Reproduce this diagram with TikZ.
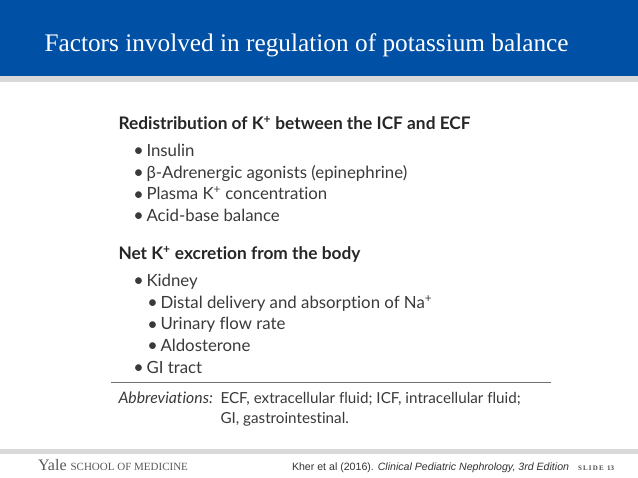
\documentclass[tikz,border=0pt]{standalone}
\usepackage{fontspec}
\setmainfont{Lato}[Ligatures=NoCommon]
\newfontfamily\titlefont{Liberation Serif}
\newfontfamily\citefont{Liberation Sans}
\usepackage[HTML]{xcolor}
\definecolor{yaleblue}{HTML}{0050A5}
\definecolor{bandgray}{HTML}{D9D9D9}
\definecolor{bodyink}{HTML}{3A3A3A}
\definecolor{ruleink}{HTML}{707070}
\newcommand{\itemrow}[1]{\makebox[12.5pt][l]{\hspace{-0.6pt}\raisebox{-0.4pt}{\fontsize{18}{20}\selectfont •}}#1}
\tikzset{
  txt/.style={anchor=base west,inner sep=0pt,outer sep=0pt,text=bodyink},
  headrow/.style={txt,font=\fontsize{17.3}{20}\selectfont\bfseries,text=black!85},
  bodyrow/.style={txt,font=\fontsize{16.8}{20}\selectfont},
  notefont/.style={txt,font=\fontsize{15.2}{18}\selectfont}
}
\begin{document}
\begin{tikzpicture}[x=1pt,y=1pt]
\useasboundingbox (0,0) rectangle (638,478);
\fill[white] (0,0) rectangle (638,478);

% bands
\fill[yaleblue] (0,401.5) rectangle (638,478);
\fill[bandgray] (0,396) rectangle (638,401.5);
\fill[bandgray] (0,24) rectangle (638,28.5);

% title
\node[txt,text=white,font=\titlefont\fontsize{25.3}{30}\selectfont] (title) at (44.5,426) {Factors involved in regulation of potassium balance};

% first list
\node[headrow] (redist) at (118.5,348.3) {Redistribution of K\textsuperscript{+} between the ICF and ECF};
\node[bodyrow] (insulin) at (134,321.5) {\itemrow{Insulin}};
\node[bodyrow] (beta) at (134,299.5) {\itemrow{β-Adrenergic agonists (epinephrine)}};
\node[bodyrow] (plasma) at (134,278) {\itemrow{Plasma K\textsuperscript{+} concentration}};
\node[bodyrow] (acid) at (134,256.5) {\itemrow{Acid-base balance}};

% second list
\node[headrow] (net) at (118.5,218.3) {Net K\textsuperscript{+} excretion from the body};
\node[bodyrow] (kidney) at (134,191.5) {\itemrow{Kidney}};
\node[bodyrow] (distal) at (148,169.5) {\itemrow{Distal delivery and absorption of Na\textsuperscript{+}}};
\node[bodyrow] (urinary) at (148,148) {\itemrow{Urinary flow rate}};
\node[bodyrow] (aldo) at (148,126.5) {\itemrow{Aldosterone}};
\node[bodyrow] (gi) at (134,104.5) {\itemrow{GI tract}};

% rule and abbreviations
\coordinate (ruleL) at (111,95);
\coordinate (ruleR) at (551,95);
\draw[ruleink,line width=1pt] (ruleL) -- (ruleR);
\node[notefont,font=\fontsize{15.8}{18}\selectfont\itshape] (abbr) at (118.5,74.5) {Abbreviations:};
\node[notefont] (abbr1) at (220.5,74.5) {ECF, extracellular fluid; ICF, intracellular fluid;};
\node[notefont] (abbr2) at (220.5,54.5) {GI, gastrointestinal.};

% footer
\node[txt,text=black!65,font=\titlefont\fontsize{16}{18}\selectfont] (yale) at (38,7.5) {Yale \fontsize{11}{12}\selectfont SCHOOL OF MEDICINE};
\node[txt,text=black!80,font=\citefont\fontsize{10.6}{13}\selectfont] (cite) at (292,7.5) {Kher et al (2016). \textit{Clinical Pediatric Nephrology, 3rd Edition}};
\node[txt,text=black!70,font=\titlefont\fontsize{7}{9}\selectfont\bfseries] (slide) at (578,7.5) {S\,L\,I\,D\,E\ \ 13};
\end{tikzpicture}
\end{document}
